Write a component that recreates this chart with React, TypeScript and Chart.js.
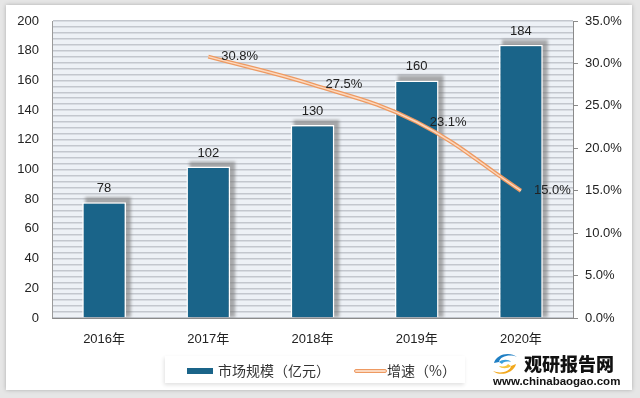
import React, { useEffect, useRef } from "react";
import { Chart, registerables } from "chart.js";

Chart.register(...registerables);

const categories = ["2016年", "2017年", "2018年", "2019年", "2020年"];
const marketSize = [78, 102, 130, 160, 184];
const growthRate = [null, 30.8, 27.5, 23.1, 15.0];
const barLegend = "市场规模（亿元）";
const lineLegend = "增速（%）";

const FONT = "'Liberation Sans', 'Noto Sans CJK SC', sans-serif";

const bgPlugin = {
  id: "plotBg",
  beforeDraw(chart: any) {
    const { ctx, chartArea: a } = chart;
    ctx.save();
    ctx.fillStyle = "#edf1f6";
    ctx.fillRect(a.left, a.top, a.right - a.left, a.bottom - a.top);
    ctx.restore();
  },
};

const shadowPlugin = {
  id: "barShadow",
  beforeDatasetsDraw(chart: any) {
    const { ctx, chartArea: a } = chart;
    const meta = chart.getDatasetMeta(0);
    ctx.save();
    ctx.beginPath();
    ctx.rect(a.left, a.top - 10, a.right - a.left, a.bottom - a.top + 10);
    ctx.clip();
    ctx.filter = "blur(1.5px)";
    ctx.fillStyle = "rgba(120,120,120,0.6)";
    meta.data.forEach((b: any) => {
      const w = b.width;
      ctx.fillRect(b.x - w / 2 + 3, b.y - 5, w + 2, b.base - b.y + 5);
    });
    ctx.restore();
  },
};

const labelPlugin = {
  id: "valueLabels",
  afterDatasetsDraw(chart: any) {
    const { ctx } = chart;
    ctx.save();
    ctx.font = `13px ${FONT}`;
    ctx.fillStyle = "#222";
    const barMeta = chart.getDatasetMeta(0);
    ctx.textAlign = "center";
    ctx.textBaseline = "alphabetic";
    barMeta.data.forEach((b: any, i: number) => {
      ctx.fillText(String(marketSize[i]), b.x, b.y - 10);
    });
    const lineMeta = chart.getDatasetMeta(2);
    ctx.textAlign = "left";
    ctx.textBaseline = "middle";
    lineMeta.data.forEach((p: any, i: number) => {
      const v = growthRate[i];
      if (v == null) return;
      ctx.fillText(v.toFixed(1) + "%", p.x + 13, p.y);
    });
    ctx.restore();
  },
};

function Logo() {
  return (
    <svg width="30" height="26" viewBox="0 0 30 26" style={{ position: "absolute", left: 490, top: 351 }}>
      <path d="M4 12 C6 3, 20 0, 27 6 C20 3, 10 5, 9 11 Z" fill="#1f7fc4" />
      <path d="M9 11 C12 8, 19 8, 21 11 C16 10, 13 11, 12 13 Z" fill="#3aa0dc" />
      <path d="M26 13 C24 22, 10 26, 3 20 C10 23, 20 21, 21 15 Z" fill="#f2a81d" />
      <path d="M21 15 C18 18, 11 18, 9 15 C14 16, 17 15, 18 13 Z" fill="#f6c640" />
    </svg>
  );
}

export default function App() {
  const ref = useRef<HTMLCanvasElement | null>(null);

  useEffect(() => {
    if (!ref.current) return;
    const chart = new Chart(ref.current, {
      type: "bar",
      data: {
        labels: categories,
        datasets: [
          {
            type: "bar",
            label: barLegend,
            data: marketSize,
            backgroundColor: "#1a6489",
            borderColor: "#ffffff",
            borderWidth: 1.5,
            barPercentage: 0.42,
            categoryPercentage: 1,
            yAxisID: "y",
            order: 3,
          },
          {
            type: "line",
            label: lineLegend + "_outline",
            data: growthRate as any,
            borderColor: "#ee9a62",
            borderWidth: 4,
            pointRadius: 0,
            tension: 0.4,
            fill: false,
            yAxisID: "y1",
            order: 2,
          },
          {
            type: "line",
            label: lineLegend,
            data: growthRate as any,
            borderColor: "#fbd8bf",
            borderWidth: 1.5,
            pointRadius: 0,
            tension: 0.4,
            fill: false,
            yAxisID: "y1",
            order: 1,
          },
        ],
      } as any,
      options: {
        responsive: false,
        animation: false,
        devicePixelRatio: 1,
        layout: { padding: { top: 21, left: 0, right: 0, bottom: 0 } },
        plugins: {
          legend: { display: false },
          tooltip: { enabled: false },
        },
        scales: {
          x: {
            grid: { display: false, drawTicks: false },
            border: { display: true, color: "#8a8a8a", width: 1 },
            ticks: { padding: 14, color: "#222", font: { family: FONT, size: 13 } },
            afterFit(scale: any) {
              scale.height = 80;
            },
          },
          y: {
            position: "left",
            min: 0,
            max: 200,
            grid: { color: "#c3c7ce", lineWidth: 1.5, drawTicks: false },
            border: { display: true, color: "#9a9a9a", width: 1 },
            ticks: {
              stepSize: 4,
              autoSkip: false,
              padding: 13,
              color: "#222",
              font: { family: FONT, size: 13 },
              callback: (v: any) => (Number(v) % 20 === 0 ? String(v) : ""),
            },
            afterFit(scale: any) {
              scale.width = 52;
            },
          },
          y1: {
            position: "right",
            min: 0,
            max: 35,
            grid: { drawOnChartArea: false, tickLength: 5, color: "#8a8a8a" },
            border: { display: true, color: "#8a8a8a", width: 1 },
            ticks: {
              stepSize: 5,
              padding: 7,
              color: "#222",
              font: { family: FONT, size: 13 },
              callback: (v: any) => Number(v).toFixed(1) + "%",
            },
            afterFit(scale: any) {
              scale.width = 67;
            },
          },
        },
      } as any,
      plugins: [bgPlugin, shadowPlugin, labelPlugin],
    });
    return () => chart.destroy();
  }, []);

  return (
    <div style={{ position: "absolute", left: 0, top: 0, width: 640, height: 398, background: "#e6e6e6", overflow: "hidden" }}>
      <div
        style={{
          position: "absolute",
          left: 6,
          top: 5,
          width: 626,
          height: 385,
          background: "#ffffff",
          boxShadow: "0 0 4px rgba(0,0,0,0.25)",
        }}
      />
      <canvas ref={ref} width={640} height={398} style={{ position: "absolute", left: 0, top: 0, width: 640, height: 398 }} />
      <div
        style={{
          position: "absolute",
          left: 165,
          top: 356,
          width: 300,
          height: 27,
          background: "#fff",
          boxShadow: "-1px 2px 4px rgba(0,0,0,0.12)",
        }}
      />
      <div style={{ position: "absolute", left: 187, top: 368, width: 26, height: 6, background: "#1a6489" }} />
      <div
        style={{
          position: "absolute",
          left: 218,
          top: 360,
          fontFamily: "'Noto Sans CJK SC', sans-serif",
          fontSize: 14,
          lineHeight: "20px",
          color: "#333",
          whiteSpace: "nowrap",
        }}
      >
        {barLegend}
      </div>
      <div
        style={{
          position: "absolute",
          left: 354,
          top: 369,
          width: 31,
          height: 2,
          background: "#fbd8bf",
          border: "1px solid #ee9a62",
          borderRadius: 2,
        }}
      />
      <div
        style={{
          position: "absolute",
          left: 387,
          top: 360,
          fontFamily: "'Noto Sans CJK SC', sans-serif",
          fontSize: 14,
          lineHeight: "20px",
          color: "#333",
          whiteSpace: "nowrap",
        }}
      >
        {lineLegend}
      </div>
      <Logo />
      <div
        style={{
          position: "absolute",
          left: 524,
          top: 351,
          fontFamily: "'Noto Sans CJK SC', sans-serif",
          fontWeight: 900,
          fontSize: 18,
          lineHeight: "24px",
          color: "#111",
          whiteSpace: "nowrap",
        }}
      >
        观研报告网
      </div>
      <div
        style={{
          position: "absolute",
          left: 493,
          top: 375,
          fontFamily: "'Liberation Sans', sans-serif",
          fontWeight: 700,
          fontSize: 11.5,
          lineHeight: "13px",
          color: "#111",
          whiteSpace: "nowrap",
        }}
      >
        www.chinabaogao.com
      </div>
    </div>
  );
}
